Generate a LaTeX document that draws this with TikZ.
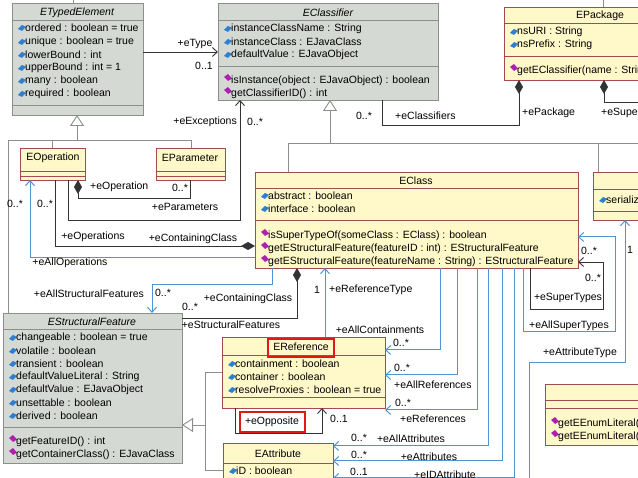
\documentclass[tikz,border=0pt]{standalone}
\usepackage{fontspec}
\setmainfont{Liberation Sans}
\usetikzlibrary{arrows.meta}
\definecolor{gfill}{HTML}{D5D9D4}
\definecolor{gline}{HTML}{8A8F8A}
\definecolor{yfill}{HTML}{FFF8C8}
\definecolor{yline}{HTML}{A34A55}
\definecolor{bl}{HTML}{4C96D7}
\definecolor{ic}{HTML}{2E7FD0}
\definecolor{mg}{HTML}{B020B0}
\definecolor{hl}{HTML}{E01818}
\tikzset{
 gbox/.style={fill=gfill,draw=gline,line width=0.9pt},
 ybox/.style={fill=yfill,draw=yline,line width=0.9pt},
 gsep/.style={draw=gline,line width=0.9pt},
 ysep/.style={draw=yline,line width=0.9pt},
 txt/.style={inner sep=0pt,anchor=west,font=\fontsize{10.5}{11}\selectfont},
 ttl/.style={inner sep=0pt,font=\fontsize{10.5}{11}\selectfont},
 lbl/.style={inner sep=0pt,font=\fontsize{10.5}{11}\selectfont},
 con/.style={draw=black!80,line width=0.9pt},
 bcon/.style={draw=bl,line width=1pt},
 oarr/.style={-{Straight Barb[length=5pt,width=9pt]}},
 gen/.style={draw=gline,line width=0.9pt},
 tri/.style={-{Triangle[open,length=11pt,width=14pt,fill=white]}},
 dia/.style={{Diamond[length=14pt,width=8pt]}-},
 red/.style={draw=hl,line width=2pt},
}
\newcommand\att[4]{\fill[ic] (#1,#2+1) -- (#1+4,#2-3) -- (#1+8,#2-1) -- (#1+4,#2+3) -- cycle;
 \node[txt] (#4) at (#1+7,#2) {#3};}
\newcommand\opr[4]{\fill[mg] (#1,#2-4) -- (#1+4,#2-7) -- (#1+8,#2-2.5) -- (#1+4,#2) -- cycle;
 \node[txt] (#4) at (#1+7,#2) {#3};}
\begin{document}
\begin{tikzpicture}[x=1pt,y=-1pt]
\useasboundingbox (0,0) rectangle (638,478);
\clip (0,0) rectangle (638,478);
\fill[white] (0,0) rectangle (638,478);
% top stubs
\draw[gen] (73,0) -- (73,3);
\draw[gen] (603,0) -- (603,7);
% ETypedElement
\draw[gbox] (12,3) rectangle (143,115);
\draw[gsep] (12,20) -- (143,20) (12,105) -- (143,105);
\node[ttl,font=\fontsize{10.5}{11}\selectfont\itshape] (tet) at (77,13) {ETypedElement};
\att{18}{28}{ordered : boolean = true}{te1}
\att{18}{42}{unique : boolean = true}{te2}
\att{18}{55}{lowerBound : int}{te3}
\att{18}{68}{upperBound : int = 1}{te4}
\att{18}{81}{many : boolean}{te5}
\att{18}{94}{required : boolean}{te6}
% EClassifier
\draw[gbox] (218,3) rectangle (438,100);
\draw[gsep] (218,20) -- (438,20) (218,66) -- (438,66);
\node[ttl,font=\fontsize{10.5}{11}\selectfont\itshape] (ect) at (328,13) {EClassifier};
\att{224}{29}{instanceClassName : String}{ec1}
\att{224}{42}{instanceClass : EJavaClass}{ec2}
\att{224}{55}{defaultValue : EJavaObject}{ec3}
\opr{224}{81}{isInstance(object : EJavaObject) : boolean}{ec4}
\opr{224}{94}{getClassifierID() : int}{ec5}
% EPackage
\draw[ybox] (504,7) rectangle (660,80);
\draw[ysep] (504,23) -- (660,23) (504,56) -- (660,56);
\node[ttl] (ept) at (600,16) {EPackage};
\att{510}{32}{nsURI : String}{ep1}
\att{510}{45}{nsPrefix : String}{ep2}
\opr{510}{71}{getEClassifier(name : String) : EClassifier}{ep3}
% EOperation, EParameter
\draw[ybox] (20,148) rectangle (85,180);
\draw[ysep] (20,171) -- (85,171) (20,176) -- (85,176);
\node[ttl] (eot) at (53,158) {EOperation};
\draw[ybox] (156,148) rectangle (225,180);
\draw[ysep] (156,171) -- (225,171) (156,176) -- (225,176);
\node[ttl] (ept2) at (190,158) {EParameter};
% EClass
\draw[ybox] (255,172) rectangle (578,268);
\draw[ysep] (255,188) -- (578,188) (255,220) -- (578,220);
\node[ttl] (ecl) at (416,181) {EClass};
\att{261}{196}{abstract : boolean}{cl1}
\att{261}{209}{interface : boolean}{cl2}
\opr{261}{236}{isSuperTypeOf(someClass : EClass) : boolean}{cl3}
\opr{261}{249}{getEStructuralFeature(featureID : int) : EStructuralFeature}{cl4}
\opr{261}{262}{getEStructuralFeature(featureName : String) : EStructuralFeature}{cl5}
% right box (EDataType)
\draw[ybox] (593,172) rectangle (660,220);
\draw[ysep] (593,189) -- (660,189) (593,211) -- (660,211);
\att{599}{200}{serializable : boolean}{dt1}
% EStructuralFeature
\draw[gbox] (3,313) rectangle (182,463);
\draw[gsep] (3,329) -- (182,329) (3,427) -- (182,427);
\node[ttl,font=\fontsize{10.5}{11}\selectfont\itshape] (sft) at (92,322) {EStructuralFeature};
\att{9}{338}{changeable : boolean = true}{sf1}
\att{9}{351}{volatile : boolean}{sf2}
\att{9}{364}{transient : boolean}{sf3}
\att{9}{377}{defaultValueLiteral : String}{sf4}
\att{9}{390}{defaultValue : EJavaObject}{sf5}
\att{9}{403}{unsettable : boolean}{sf6}
\att{9}{416}{derived : boolean}{sf7}
\opr{9}{442}{getFeatureID() : int}{sf8}
\opr{9}{455}{getContainerClass() : EJavaClass}{sf9}
% EReference
\draw[ybox] (222,337) rectangle (385,408);
\draw[ysep] (222,355) -- (385,355) (222,397) -- (385,397);
\node[ttl] (ert) at (301,347) {EReference};
\att{228}{364}{containment : boolean}{er1}
\att{228}{377}{container : boolean}{er2}
\att{228}{390}{resolveProxies : boolean = true}{er3}
% EAttribute
\draw[ybox] (223,443) rectangle (333,490);
\draw[ysep] (223,463) -- (333,463);
\node[ttl] (eat) at (278,454) {EAttribute};
\att{229}{471}{iD : boolean}{ea1}
% EEnum box
\draw[ybox] (545,384) rectangle (660,445);
\draw[ysep] (545,400) -- (660,400) (545,408) -- (660,408);
\opr{551}{424}{getEEnumLiteral(name : String) : EEnumLiteral}{en1}
\opr{551}{437}{getEEnumLiteral(value : int) : EEnumLiteral}{en2}
% generalizations
\draw[gen,tri] (77,140) -- (77,115);
\draw[gen] (8,140) -- (191,140) -- (191,148) (8,140) -- (8,313);
\draw[gen] (52,140) -- (52,148);
\draw[gen,tri] (330,143) -- (330,100);
\draw[gen] (288,143) -- (660,143) (288,143) -- (288,172) (598,143) -- (598,172);
\draw[gen,tri] (205,425) -- (182,425);
\draw[gen] (222,372) -- (205,372) -- (205,470) -- (223,470);
% eType
\draw[con,oarr] (143,52) -- (218,52);
\node[lbl] (l1) at (195,44) {+eType};
\node[lbl] (l2) at (204,66) {0..1};
% eClassifiers / ePackage
\draw[con,dia] (519,80) -- (519,125) -- (382,125) -- (382,100);
\node[lbl] (l3) at (364,116) {0..*};
\node[lbl,anchor=west] (l4) at (395,116) {+eClassifiers};
\node[lbl,anchor=west] (l5) at (522,113) {+ePackage};
\draw[con,dia] (604,80) -- (604,102) -- (660,102);
\node[lbl,anchor=west] (l6) at (601,113) {+eSuperPackage};
% eExceptions
\draw[con,oarr] (68,180) -- (68,220) -- (240,220) -- (240,100);
\node[lbl,anchor=east] (l7) at (237,122) {+eExceptions};
\node[lbl,anchor=west] (l8) at (247,122) {0..*};
% eOperation / eParameters
\draw[con,dia] (78,180) -- (78,198) -- (190,198) -- (190,180);
\node[lbl,anchor=west] (l9) at (90,187) {+eOperation};
\node[lbl] (l10) at (180,188) {0..*};
\node[lbl] (l11) at (185,207) {+eParameters};
% eOperations / eContainingClass
\draw[con,dia] (255,246) -- (55,246) -- (55,180);
\node[lbl] (l12) at (45,204) {0..*};
\node[lbl] (l13) at (93,237) {+eOperations};
\node[lbl] (l14) at (193,239) {+eContainingClass};
% eAllOperations
\draw[bcon,oarr] (255,258) -- (30,258) -- (30,180);
\node[lbl] (l15) at (15,204) {0..*};
\node[lbl] (l16) at (70,263) {+eAllOperations};
% eAllStructuralFeatures
\draw[bcon,oarr] (272,268) -- (272,285) -- (152,285) -- (152,313);
\node[lbl] (l17) at (89,294) {+eAllStructuralFeatures};
\node[lbl] (l18) at (163,293) {0..*};
% eStructuralFeatures
\draw[con,dia] (297,268) -- (297,318) -- (182,318);
\node[lbl] (l19) at (248,299) {+eContainingClass};
\node[lbl] (l20) at (190,307) {0..*};
\node[lbl] (l21) at (231,325) {+eStructuralFeatures};
\node[lbl] (l22) at (317,290) {1};
% eReferenceType
\draw[bcon,oarr] (325,337) -- (325,268);
\node[lbl,anchor=west] (l23) at (329,290) {+eReferenceType};
% eAllContainments
\draw[bcon,oarr] (440,268) -- (440,350) -- (385,350);
\node[lbl] (l24) at (380,330) {+eAllContainments};
\node[lbl] (l25) at (401,343) {0..*};
% eAllReferences
\draw[bcon,oarr] (457,268) -- (457,375) -- (385,375);
\node[lbl] (l26) at (402,368) {0..*};
\node[lbl,anchor=west] (l27) at (394,385) {+eAllReferences};
% eReferences
\draw[bcon,oarr] (477,268) -- (477,410) -- (385,410);
\node[lbl] (l28) at (403,403) {0..*};
\node[lbl,anchor=west] (l29) at (400,419) {+eReferences};
% attributes
\draw[bcon,oarr] (488,268) -- (488,446) -- (333,446);
\node[lbl] (l30) at (359,438) {0..*};
\node[lbl] (l31) at (411,439) {+eAllAttributes};
\draw[bcon,oarr] (502,268) -- (502,461) -- (333,461);
\node[lbl] (l32) at (359,455) {0..*};
\node[lbl] (l33) at (429,457) {+eAttributes};
\draw[bcon,oarr] (514,268) -- (514,478) -- (333,478);
\node[lbl] (l34) at (359,472) {0..1};
\node[lbl] (l35) at (445,475) {+eIDAttribute};
% super types
\draw[bcon,oarr] (523,268) -- (523,332) -- (615,332) -- (615,237) -- (578,237);
\node[lbl] (l36) at (589,251) {0..*};
\node[lbl] (l37) at (569,326) {+eAllSuperTypes};
\draw[con,oarr] (530,268) -- (530,309) -- (603,309) -- (603,262) -- (578,262);
\node[lbl] (l38) at (593,278) {0..*};
\node[lbl] (l39) at (568,298) {+eSuperTypes};
% eAttributeType
\draw[bcon,oarr] (529,478) -- (529,363) -- (625,363) -- (625,220);
\node[lbl] (l40) at (630,250) {1};
\node[lbl] (l41) at (580,353) {+eAttributeType};
% eOpposite
\draw[con,oarr] (235,408) -- (235,433) -- (322,433) -- (322,408);
\node[lbl] (l42) at (272,422) {+eOpposite};
\node[lbl] (l43) at (339,419) {0..1};
% highlights
\draw[red] (240,412) rectangle (305,432);
\draw[red] (268,339) rectangle (334,357);
\end{tikzpicture}
\end{document}
